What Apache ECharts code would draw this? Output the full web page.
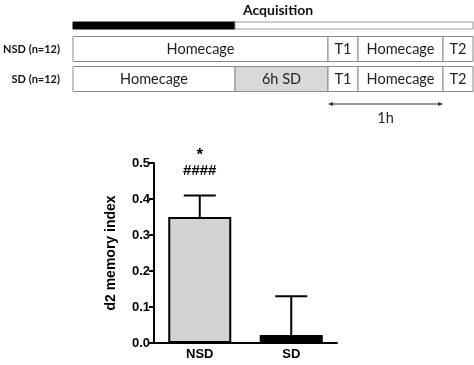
<!DOCTYPE html>
<html><head><meta charset="utf-8">
<script src="https://cdn.jsdelivr.net/npm/echarts@6/dist/echarts.min.js"></script>
<style>html,body{margin:0;padding:0;background:#fff}#c{width:474px;height:365px}</style>
</head><body><div id="c"></div>
<script>
// ---- schematic (arbitrary schematic units) ----
const titleText = 'Acquisition';
const scheduleRows = ['NSD (n=12)', 'SD (n=12)'];
const nsdSegments = ['Homecage', 'T1', 'Homecage', 'T2'];
const nsdLengths = [255, 30, 85, 30];
const sdSegments = ['Homecage', '6h SD', 'T1', 'Homecage', 'T2'];
const sdLengths = [162, 93, 30, 85, 30];
const lightDarkLengths = [162, 238]; // dark, light
const intervalLabel = '1h';

// ---- bar chart ----
const groups = ['NSD', 'SD'];
const means = [0.35, 0.022];
const errors = [0.06, 0.108];
const sigStars = ['*', ''];
const sigHashes = ['####', ''];
const yMin = 0, yMax = 0.5, yInterval = 0.1;

// build schedule items
function buildRow(names, lens, row) {
  let s = 0; const out = [];
  names.forEach((n, i) => { out.push({ value: [s, s + lens[i], row], name: n, shaded: n.indexOf('SD') >= 0 }); s += lens[i]; });
  return out;
}
const schedItems = buildRow(nsdSegments, nsdLengths, 0).concat(buildRow(sdSegments, sdLengths, 1));
// arrow spans T1 start to T2 start (NSD row)
const t1Start = nsdLengths[0];
const t2Start = nsdLengths[0] + nsdLengths[1] + nsdLengths[2];
const arrowItem = [{ value: [t1Start, t2Start, 2], name: intervalLabel }];
const ldItems = [{ value: [0, lightDarkLengths[0], 0], dark: true }, { value: [lightDarkLengths[0], lightDarkLengths[0] + lightDarkLengths[1], 0], dark: false }];
const total = nsdLengths.reduce((a, b) => a + b, 0);

const chart = echarts.init(document.getElementById('c'), null, { renderer: 'canvas' });
const boxFont = '14.5px Lato';
const option = {
  animation: false,
  backgroundColor: '#fff',
  title: { text: titleText, left: 273, top: -2, textAlign: 'center', textStyle: { fontFamily: 'Lato', fontWeight: 'bold', fontSize: 14, color: '#111' } },
  grid: [
    { left: 73, width: 400, top: 22, height: 7 },
    { left: 73, width: 400, top: 34, height: 90 },
    { left: 154, width: 183, top: 163, height: 180 }
  ],
  xAxis: [
    { gridIndex: 0, type: 'value', min: 0, max: total, show: false },
    { gridIndex: 1, type: 'value', min: 0, max: total, show: false },
    { gridIndex: 2, type: 'category', data: groups,
      axisLine: { lineStyle: { color: '#000', width: 2 } },
      axisTick: { alignWithLabel: true, length: 5, lineStyle: { color: '#000', width: 2 } },
      axisLabel: { color: '#000', fontWeight: 'bold', fontSize: 13, fontFamily: 'Liberation Sans', margin: 5 } }
  ],
  yAxis: [
    { gridIndex: 0, type: 'category', data: ['LD'], show: false },
    { gridIndex: 1, type: 'category', data: scheduleRows.concat(['']), inverse: true,
      axisLine: { show: false }, axisTick: { show: false },
      axisLabel: { margin: 13, color: '#111', fontWeight: 'bold', fontSize: 11, fontFamily: 'Lato' } },
    { gridIndex: 2, type: 'value', min: yMin, max: yMax, interval: yInterval,
      name: 'd2 memory index', nameLocation: 'middle', nameGap: 36,
      nameTextStyle: { color: '#000', fontWeight: 'bold', fontSize: 14, fontFamily: 'Liberation Sans' },
      axisLine: { show: true, lineStyle: { color: '#000', width: 2 } },
      axisTick: { show: true, length: 5, lineStyle: { color: '#000', width: 2 } },
      splitLine: { show: false },
      axisLabel: { color: '#000', fontWeight: 'bold', fontSize: 13, fontFamily: 'Liberation Sans', margin: 4, formatter: v => v.toFixed(1) } }
  ],
  series: [
    { type: 'custom', xAxisIndex: 0, yAxisIndex: 0, data: ldItems,
      renderItem: function (params, api) {
        const a = api.coord([api.value(0), 0]); const b = api.coord([api.value(1), 0]);
        const h = api.size([0, 1])[1];
        const it = ldItems[params.dataIndex];
        return { type: 'rect', shape: { x: a[0], y: a[1] - h / 2, width: b[0] - a[0], height: h },
          style: { fill: it.dark ? '#000' : '#fff', stroke: it.dark ? '#000' : '#999', lineWidth: 1 } };
      } },
    { type: 'custom', xAxisIndex: 1, yAxisIndex: 1, data: schedItems,
      renderItem: function (params, api) {
        const row = api.value(2);
        const a = api.coord([api.value(0), row]); const b = api.coord([api.value(1), row]);
        const h = 25;
        const it = schedItems[params.dataIndex];
        return { type: 'group', children: [
          { type: 'rect', shape: { x: a[0], y: a[1] - h / 2, width: b[0] - a[0], height: h },
            style: { fill: it.shaded ? '#d9d9d9' : '#fff', stroke: '#8a8a8a', lineWidth: 1 } },
          { type: 'text', x: (a[0] + b[0]) / 2, y: a[1], style: { text: it.name, font: boxFont, fill: '#222', align: 'center', verticalAlign: 'middle' } }
        ] };
      } },
    { type: 'custom', xAxisIndex: 1, yAxisIndex: 1, data: arrowItem,
      renderItem: function (params, api) {
        const row = api.value(2);
        const a = api.coord([api.value(0), row]); const b = api.coord([api.value(1), row]);
        const y = a[1] - 5;
        return { type: 'group', children: [
          { type: 'line', shape: { x1: a[0] + 1, y1: y, x2: b[0] - 1, y2: y }, style: { stroke: '#333', lineWidth: 1.2 } },
          { type: 'polygon', shape: { points: [[a[0], y], [a[0] + 5, y - 2], [a[0] + 5, y + 2]] }, style: { fill: '#333' } },
          { type: 'polygon', shape: { points: [[b[0], y], [b[0] - 5, y - 2], [b[0] - 5, y + 2]] }, style: { fill: '#333' } },
          { type: 'text', x: (a[0] + b[0]) / 2, y: y + 14, style: { text: arrowItem[0].name, font: boxFont, fill: '#222', align: 'center', verticalAlign: 'middle' } }
        ] };
      } },
    { type: 'bar', xAxisIndex: 2, yAxisIndex: 2, barWidth: 63,
      data: means.map((m, i) => ({ value: m, itemStyle: i === 0 ? { color: '#d3d3d3', borderColor: '#000', borderWidth: 2 } : { color: '#000', borderColor: '#000', borderWidth: 2 } })) },
    { type: 'custom', xAxisIndex: 2, yAxisIndex: 2, z: 1,
      data: means.map((m, i) => [i, m, m + errors[i]]),
      renderItem: function (params, api) {
        const i = params.dataIndex;
        const top = api.coord([api.value(0), api.value(2)]);
        const base = api.coord([api.value(0), api.value(1)]);
        const ch = [
          { type: 'line', shape: { x1: top[0], y1: top[1], x2: base[0], y2: base[1] }, style: { stroke: '#000', lineWidth: 2 } },
          { type: 'line', shape: { x1: top[0] - 16, y1: top[1], x2: top[0] + 16, y2: top[1] }, style: { stroke: '#000', lineWidth: 2 } }
        ];
        if (sigHashes[i]) ch.push({ type: 'text', x: top[0], y: top[1] - 25, style: { text: sigHashes[i], font: 'bold 15px "Liberation Sans"', fill: '#000', align: 'center', verticalAlign: 'middle' } });
        if (sigStars[i]) ch.push({ type: 'text', x: top[0], y: top[1] - 40, style: { text: sigStars[i], font: 'bold 17px "Liberation Sans"', fill: '#000', align: 'center', verticalAlign: 'middle' } });
        return { type: 'group', children: ch };
      } }
  ]
};
chart.setOption(option);
</script></body></html>
